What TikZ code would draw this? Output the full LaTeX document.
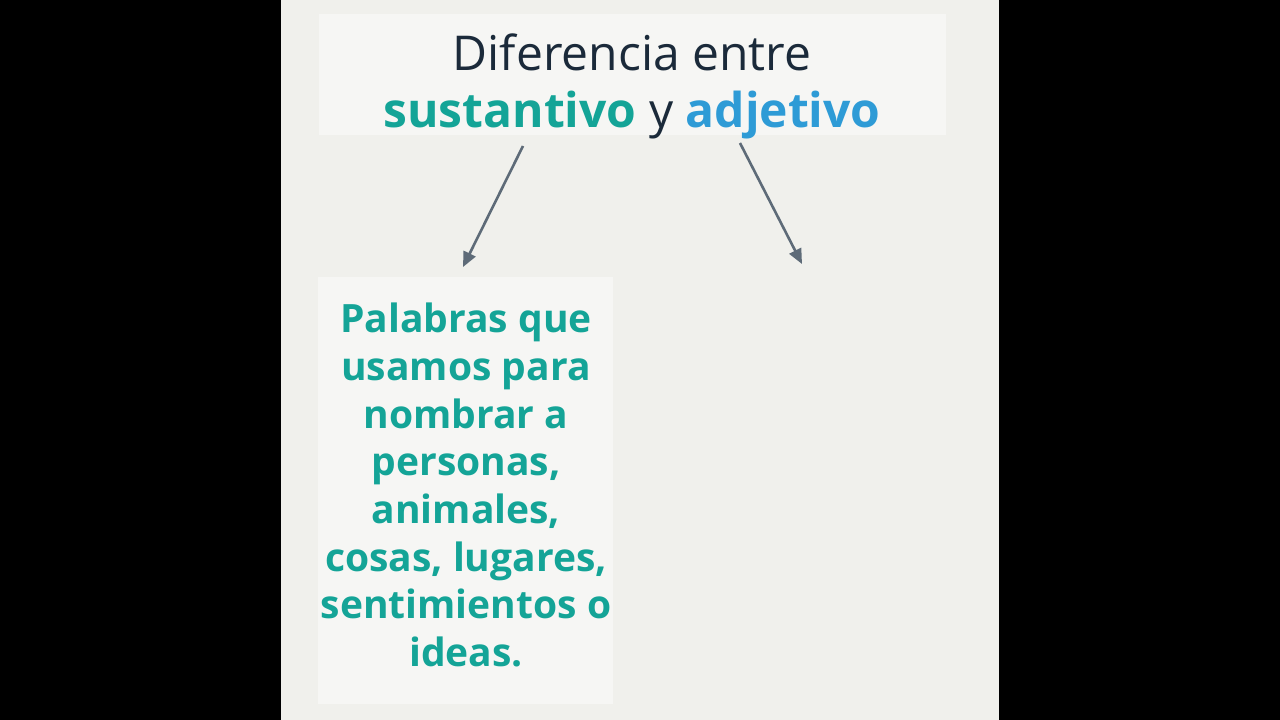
\documentclass[tikz,border=0pt]{standalone}
\usepackage{fontspec}
\setmainfont{Open Sans}
\usetikzlibrary{positioning,arrows.meta}
\definecolor{fondo}{HTML}{F0F0EC}
\definecolor{caja}{HTML}{F6F6F4}
\definecolor{tinta}{HTML}{1B2A3A}
\definecolor{verde}{HTML}{14A497}
\definecolor{azul}{HTML}{2E9BD6}
\definecolor{flecha}{HTML}{5E6B78}
\begin{document}
\begin{tikzpicture}[x=1pt,y=-1pt]
\tikzstyle{box}=[fill=caja, inner sep=0pt, anchor=north west]
\tikzstyle{flechita}=[draw=flecha, line width=2.6pt, -{Triangle[length=15pt,width=13pt]}]
\fill[black] (0,0) rectangle (1280,720);
\fill[fondo] (281,0) rectangle (999,720);
\node[box, minimum width=627pt, minimum height=121pt] (titulo) at (319,14) {};
\node[font=\fontsize{48}{57}\selectfont, color=tinta, align=center] (tituloTexto) at (632,86)
	{Diferencia entre\\ {\bfseries\color{verde}sustantivo} y {\bfseries\color{azul}adjetivo}};
\node[box, minimum width=295pt, minimum height=427pt] (sustantivo) at (318,277) {};
\node[font=\bfseries\fontsize{39}{47.7}\selectfont, color=verde, align=center] (sustantivoTexto) at (466,485)
	{Palabras que\\ usamos para\\ nombrar a\\ personas,\\ animales,\\ cosas, lugares,\\ sentimientos o\\ ideas.};
\coordinate (salidaA) at (523,146);
\coordinate (llegadaA) at (463,267);
\coordinate (salidaB) at (740,143);
\coordinate (adjetivo) at (802,264);
\draw[flechita] (salidaA) -- (llegadaA);
\draw[flechita] (salidaB) -- (adjetivo);
\end{tikzpicture}
\end{document}
